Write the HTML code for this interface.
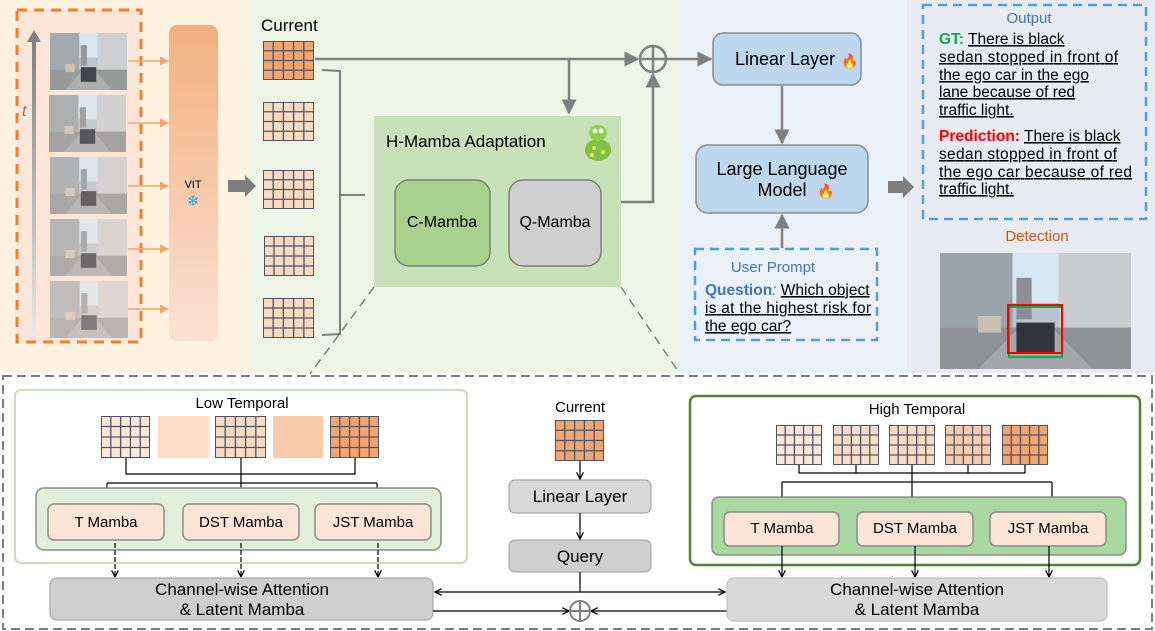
<!DOCTYPE html>
<html><head><meta charset="utf-8"><style>
body{margin:0;width:1155px;height:631px;overflow:hidden;background:#fff}
svg{display:block}
text{font-family:"Liberation Sans",sans-serif}
</style></head><body>
<svg width="1155" height="631" viewBox="0 0 1155 631" xmlns="http://www.w3.org/2000/svg">
<defs>
<symbol id="grid" viewBox="0 0 50 40" preserveAspectRatio="none">
<rect x="0" y="0" width="50" height="40" fill="currentColor" stroke="#4a5568" stroke-width="2" vector-effect="non-scaling-stroke"/>
<g stroke="#4a5568" stroke-width="1.3" vector-effect="non-scaling-stroke">
<line x1="10" y1="0" x2="10" y2="40" vector-effect="non-scaling-stroke"/><line x1="20" y1="0" x2="20" y2="40" vector-effect="non-scaling-stroke"/><line x1="30" y1="0" x2="30" y2="40" vector-effect="non-scaling-stroke"/><line x1="40" y1="0" x2="40" y2="40" vector-effect="non-scaling-stroke"/>
<line x1="0" y1="10" x2="50" y2="10" vector-effect="non-scaling-stroke"/><line x1="0" y1="20" x2="50" y2="20" vector-effect="non-scaling-stroke"/><line x1="0" y1="30" x2="50" y2="30" vector-effect="non-scaling-stroke"/>
</g></symbol>
<symbol id="scene" viewBox="0 0 100 70" preserveAspectRatio="none">
<rect width="100" height="70" fill="#b9c3cc"/>
<rect x="35" y="0" width="30" height="30" fill="#d6e6f2"/>
<rect x="0" y="0" width="38" height="45" fill="#9aa3a8"/>
<rect x="62" y="0" width="38" height="45" fill="#c8cdd0"/>
<rect x="40" y="15" width="8" height="25" fill="#8a9096"/>
<polygon points="0,70 0,45 100,45 100,70" fill="#8f9395"/>
<polygon points="20,70 44,42 56,42 80,70" fill="#a4a7a9"/>
<rect x="40" y="42" width="20" height="18" fill="#30343c"/>
<rect x="20" y="38" width="12" height="10" fill="#c9bfb3"/>
</symbol>
<marker id="ag" viewBox="0 0 10 10" refX="9" refY="5" markerWidth="6" markerHeight="6" orient="auto"><path d="M0,0L10,5L0,10z" fill="#7f7f7f"/></marker>
<marker id="ab" viewBox="0 0 10 10" refX="9" refY="5" markerWidth="7" markerHeight="7" orient="auto"><path d="M1,1L9,5L1,9" fill="none" stroke="#000" stroke-width="1.5"/></marker>
<marker id="ao" viewBox="0 0 10 10" refX="9" refY="5" markerWidth="6" markerHeight="6" orient="auto"><path d="M0,0L10,5L0,10z" fill="#f4a46e"/></marker>
<linearGradient id="vit" x1="0" y1="0" x2="0" y2="1"><stop offset="0" stop-color="#f3b07f"/><stop offset="1" stop-color="#fbe1d3"/></linearGradient>
<linearGradient id="tl" x1="0" y1="1" x2="0" y2="0"><stop offset="0" stop-color="#e8e8e8"/><stop offset="1" stop-color="#808080"/></linearGradient>
</defs>

<rect x="0" y="0" width="249" height="373" fill="#fdf3e0"/>
<rect x="249" y="0" width="431" height="373" fill="#eef5e6"/>
<rect x="680" y="0" width="227" height="373" fill="#eaf1f9"/>
<rect x="907" y="0" width="248" height="373" fill="#e8ecf2"/>

<rect x="17" y="10" width="124" height="332" fill="#fde6d8" stroke="#f07f2c" stroke-width="3" stroke-dasharray="10,7"/>
<rect x="32" y="38" width="4" height="300" fill="url(#tl)"/>
<path d="M27,42 L34,30 L41,42z" fill="#808080"/>
<text x="22" y="116" font-size="16" font-style="italic" fill="#777">t</text>
<use href="#scene" x="50" y="33" width="77" height="57" opacity="0.9"/>
<use href="#scene" x="49" y="95" width="77" height="57" opacity="0.8"/>
<use href="#scene" x="50" y="157" width="77" height="57" opacity="0.75"/>
<use href="#scene" x="50" y="219" width="77" height="57" opacity="0.7"/>
<use href="#scene" x="50" y="281" width="78" height="57" opacity="0.6"/>
<g stroke="#f4a46e" stroke-width="1.5" marker-end="url(#ao)">
<line x1="128" y1="61" x2="168" y2="61"/><line x1="128" y1="123" x2="168" y2="123"/><line x1="128" y1="186" x2="168" y2="186"/><line x1="128" y1="249" x2="168" y2="249"/><line x1="128" y1="309" x2="168" y2="309"/>
</g>
<rect x="169" y="25" width="49" height="316" rx="8" fill="url(#vit)"/>
<text x="193" y="188" font-size="11" text-anchor="middle">VIT</text>
<text x="193" y="206" font-size="15" text-anchor="middle" fill="#2aa0e8">❄</text>
<path d="M228,180 L245,180 L245,175 L256,186 L245,197 L245,192 L228,192z" fill="#7f7f7f"/>

<text x="261" y="31" font-size="17">Current</text>
<use href="#grid" x="263" y="41" width="51" height="39" color="#f4a46e"/>
<use href="#grid" x="263" y="102" width="51" height="39" color="#fadac0"/>
<use href="#grid" x="263" y="170" width="51" height="39" color="#fadac0"/>
<use href="#grid" x="264" y="236" width="50" height="40" color="#fadac0"/>
<use href="#grid" x="263" y="298" width="51" height="40" color="#fadac0"/>
<path d="M322,70 L340,71 L340,334 L322,335 M340,195 L365,195" fill="none" stroke="#7f7f7f" stroke-width="2"/>

<g stroke="#7f7f7f" stroke-width="2.5" fill="none">
<line x1="315" y1="59" x2="638" y2="59" marker-end="url(#ag)"/>
<line x1="569" y1="59" x2="569" y2="113" marker-end="url(#ag)"/>
<path d="M621,202 L653,202 L653,74" marker-end="url(#ag)"/>
<circle cx="653" cy="59" r="13"/>
<line x1="640" y1="59" x2="666" y2="59"/><line x1="653" y1="46" x2="653" y2="72"/>
<line x1="666" y1="59" x2="711" y2="59" marker-end="url(#ag)"/>
<line x1="782" y1="86" x2="782" y2="143" marker-end="url(#ag)"/>
<line x1="782" y1="248" x2="782" y2="215" marker-end="url(#ag)"/>
</g>
<g stroke="#7f7f7f" stroke-width="1.5" stroke-dasharray="9,6"><line x1="374" y1="287" x2="310" y2="374"/><line x1="621" y1="287" x2="680" y2="374"/></g>

<rect x="374" y="116" width="247" height="171" fill="#c7e1b9"/>
<text x="386" y="147" font-size="17">H-Mamba Adaptation</text>
<g transform="translate(598,142)">
<ellipse cx="0" cy="8" rx="13" ry="11" fill="#7dc242"/><ellipse cx="0" cy="-9" rx="9" ry="8" fill="#8ccf4a"/>
<circle cx="-3" cy="-11" r="2.5" fill="#fff"/><circle cx="3" cy="-11" r="2.5" fill="#fff"/>
<circle cx="-4" cy="6" r="2" fill="#f2e84b"/><circle cx="5" cy="10" r="2" fill="#f2e84b"/><circle cx="-6" cy="13" r="2" fill="#f2e84b"/>
</g>
<rect x="395" y="180" width="95" height="86" rx="14" fill="#a9d18e" stroke="#7f7f7f" stroke-width="1.5"/>
<text x="442" y="227" font-size="16" text-anchor="middle">C-Mamba</text>
<rect x="509" y="180" width="92" height="86" rx="14" fill="#d0cfcf" stroke="#7f7f7f" stroke-width="1.5"/>
<text x="555" y="227" font-size="16" text-anchor="middle">Q-Mamba</text>

<rect x="713" y="33" width="148" height="52" rx="10" fill="#bdd7ee" stroke="#8c8c8c" stroke-width="1.5"/>
<text x="735" y="65" font-size="18">Linear Layer</text><text x="841" y="66" font-size="14" fill="#f07f2c">🔥</text>
<rect x="696" y="145" width="172" height="68" rx="12" fill="#bdd7ee" stroke="#8c8c8c" stroke-width="1.5"/>
<text x="782" y="175" font-size="18" text-anchor="middle">Large Language</text>
<text x="782" y="196" font-size="18" text-anchor="middle">Model</text><text x="817" y="196" font-size="14" fill="#f07f2c">🔥</text>
<rect x="695" y="249" width="182" height="91" fill="none" stroke="#5b9bd5" stroke-width="2.5" stroke-dasharray="9,6"/>
<text x="773" y="272" font-size="15" fill="#4472c4" text-anchor="middle">User Prompt</text>
<text x="705" y="295" font-size="15.5"><tspan fill="#4472c4" font-weight="bold">Question</tspan><tspan fill="#4472c4" font-style="italic">:</tspan> <tspan text-decoration="underline">Which object</tspan></text>
<text x="705" y="313" font-size="15.5" text-decoration="underline" textLength="166">is at the highest risk for</text>
<text x="705" y="331" font-size="15.5" text-decoration="underline">the ego car? </text>
<path d="M888,181 L903,181 L903,176 L914,187 L903,198 L903,193 L888,193z" fill="#7f7f7f"/>

<rect x="923" y="5" width="223" height="214" fill="none" stroke="#5b9bd5" stroke-width="2.5" stroke-dasharray="9,6"/>
<text x="1029" y="23" font-size="15" fill="#4472c4" text-anchor="middle">Output</text>
<g font-size="15.5">
<text x="939" y="44"><tspan fill="#00b050" font-weight="bold">GT:</tspan> <tspan text-decoration="underline">There is  black</tspan></text>
<text x="939" y="62" text-decoration="underline" textLength="179">sedan stopped in front of</text>
<text x="939" y="80" text-decoration="underline">the ego car in the ego</text>
<text x="939" y="97" text-decoration="underline">lane because of red</text>
<text x="939" y="115" text-decoration="underline">traffic light.</text>
<text x="939" y="141"><tspan fill="#ff0000" font-weight="bold">Prediction:</tspan> <tspan text-decoration="underline">There is  black</tspan></text>
<text x="939" y="159" text-decoration="underline" textLength="178">sedan stopped in front of</text>
<text x="939" y="177" text-decoration="underline" textLength="193">the ego car because of red</text>
<text x="939" y="194" text-decoration="underline">traffic light.</text>
</g>
<text x="1037" y="241" font-size="15" fill="#c55a11" text-anchor="middle">Detection</text>
<use href="#scene" x="940" y="253" width="191" height="116"/>
<rect x="1009" y="307" width="53" height="50" fill="none" stroke="#00b050" stroke-width="2"/>
<rect x="1008" y="305" width="54" height="48" fill="none" stroke="#ff0000" stroke-width="2"/>

<rect x="3" y="376" width="1149" height="253" fill="#fff" stroke="#7f7f7f" stroke-width="2" stroke-dasharray="9,5"/>

<rect x="15" y="390" width="452" height="173" rx="6" fill="#fff" stroke="#c5e0b4" stroke-width="2"/>
<text x="242" y="408" font-size="15" text-anchor="middle">Low Temporal</text>
<use href="#grid" x="101" y="416" width="49" height="42" color="#fde6d8"/>
<rect x="158" y="416" width="51" height="42" fill="#fbdcc8"/>
<use href="#grid" x="215" y="416" width="51" height="42" color="#fadac0"/>
<rect x="273" y="416" width="50" height="42" fill="#f8cbad"/>
<use href="#grid" x="330" y="416" width="49" height="42" color="#f4a46e"/>
<g stroke="#000" stroke-width="1.2" fill="none">
<path d="M126,458 L126,474 L355,474 L355,458"/>
<line x1="241" y1="458" x2="241" y2="500" marker-end="url(#ab)"/>
<path d="M107,483 L377,483"/>
<line x1="107" y1="483" x2="107" y2="502" marker-end="url(#ab)"/>
<line x1="377" y1="483" x2="377" y2="502" marker-end="url(#ab)"/>
</g>
<rect x="36" y="488" width="405" height="62" rx="8" fill="#e2efda" stroke="#8c8c8c" stroke-width="1.5"/>
<g font-size="15" text-anchor="middle">
<rect x="48" y="504" width="116" height="36" rx="6" fill="#fbe5d6" stroke="#8c8c8c" stroke-width="1.5"/><text x="106" y="527">T Mamba</text>
<rect x="183" y="504" width="116" height="36" rx="6" fill="#fbe5d6" stroke="#8c8c8c" stroke-width="1.5"/><text x="241" y="527">DST Mamba</text>
<rect x="315" y="504" width="116" height="36" rx="6" fill="#fbe5d6" stroke="#8c8c8c" stroke-width="1.5"/><text x="373" y="527">JST Mamba</text>
</g>
<g stroke="#000" stroke-width="1.2" stroke-dasharray="5,2">
<line x1="115" y1="543" x2="115" y2="577" marker-end="url(#ab)"/>
<line x1="241" y1="543" x2="241" y2="577" marker-end="url(#ab)"/>
<line x1="378" y1="543" x2="378" y2="577" marker-end="url(#ab)"/>
</g>
<rect x="50" y="578" width="383" height="42" rx="7" fill="#d0cfcf" stroke="#a6a6a6" stroke-width="1.2"/>
<text x="242" y="595" font-size="17" text-anchor="middle">Channel-wise Attention</text>
<text x="242" y="615" font-size="17" text-anchor="middle">&amp; Latent Mamba</text>

<text x="580" y="412" font-size="15" text-anchor="middle">Current</text>
<use href="#grid" x="555" y="420" width="49" height="41" color="#f4a46e"/>
<rect x="509" y="480" width="142" height="33" rx="6" fill="#d9d9d9" stroke="#a6a6a6" stroke-width="1.2"/>
<text x="580" y="502" font-size="17" text-anchor="middle">Linear Layer</text>
<rect x="509" y="540" width="142" height="32" rx="6" fill="#d0cfcf" stroke="#a6a6a6" stroke-width="1.2"/>
<text x="580" y="562" font-size="17" text-anchor="middle">Query</text>
<g stroke="#000" stroke-width="1.2" fill="none">
<line x1="580" y1="461" x2="580" y2="479" marker-end="url(#ab)"/>
<line x1="580" y1="513" x2="580" y2="539" marker-end="url(#ab)"/>
<path d="M580,572 L580,592 L435,592" marker-end="url(#ab)"/>
<path d="M580,592 L725,592" marker-end="url(#ab)"/>
<line x1="433" y1="611" x2="569" y2="611" marker-end="url(#ab)"/>
<line x1="727" y1="611" x2="591" y2="611" marker-end="url(#ab)"/>
</g>
<g stroke="#7f7f7f" stroke-width="2" fill="none"><circle cx="580" cy="611" r="10"/><line x1="570" y1="611" x2="590" y2="611"/><line x1="580" y1="601" x2="580" y2="621"/></g>

<rect x="690" y="396" width="450" height="169" rx="6" fill="#fff" stroke="#548235" stroke-width="2.5"/>
<text x="917" y="414" font-size="15" text-anchor="middle">High Temporal</text>
<use href="#grid" x="776" y="425" width="46" height="40" color="#fde6d8"/>
<use href="#grid" x="833" y="425" width="46" height="40" color="#fbdcc8"/>
<use href="#grid" x="889" y="425" width="46" height="40" color="#fadac0"/>
<use href="#grid" x="945" y="425" width="46" height="40" color="#f8cbad"/>
<use href="#grid" x="1002" y="425" width="46" height="40" color="#f4a46e"/>
<g stroke="#000" stroke-width="1.2" fill="none">
<path d="M799,465 L799,473 L1025,473 L1025,465 M856,465 L856,473 M968,465 L968,473"/>
<line x1="912" y1="465" x2="912" y2="510" marker-end="url(#ab)"/>
<path d="M782,482 L1052,482"/>
<line x1="782" y1="482" x2="782" y2="510" marker-end="url(#ab)"/>
<line x1="1052" y1="482" x2="1052" y2="510" marker-end="url(#ab)"/>
</g>
<rect x="712" y="497" width="414" height="58" rx="7" fill="#a9d8a0" stroke="#8c8c8c" stroke-width="1.5"/>
<g font-size="15" text-anchor="middle">
<rect x="724" y="512" width="115" height="34" rx="6" fill="#fbe5d6" stroke="#8c8c8c" stroke-width="1.5"/><text x="782" y="533">T Mamba</text>
<rect x="857" y="512" width="116" height="34" rx="6" fill="#fbe5d6" stroke="#8c8c8c" stroke-width="1.5"/><text x="915" y="533">DST Mamba</text>
<rect x="990" y="512" width="116" height="34" rx="6" fill="#fbe5d6" stroke="#8c8c8c" stroke-width="1.5"/><text x="1048" y="533">JST Mamba</text>
</g>
<g stroke="#000" stroke-width="1.2">
<line x1="782" y1="546" x2="782" y2="577" marker-end="url(#ab)"/>
<line x1="915" y1="546" x2="915" y2="577" marker-end="url(#ab)"/>
<line x1="1049" y1="546" x2="1049" y2="577" marker-end="url(#ab)"/>
</g>
<rect x="727" y="578" width="380" height="43" rx="7" fill="#d9d9d9" stroke="#bfbfbf" stroke-width="1.2"/>
<text x="917" y="595" font-size="17" text-anchor="middle">Channel-wise Attention</text>
<text x="917" y="615" font-size="17" text-anchor="middle">&amp; Latent Mamba</text>
</svg>
</body></html>
